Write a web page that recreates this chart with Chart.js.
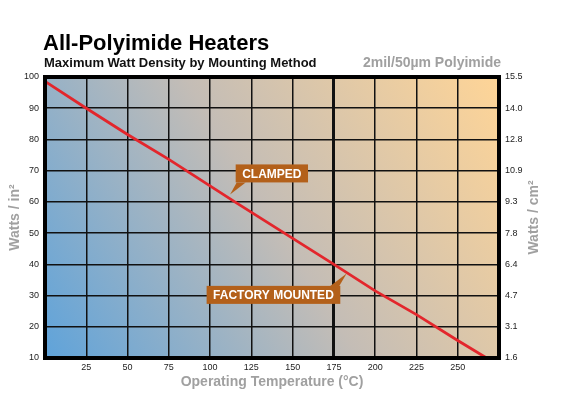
<!DOCTYPE html>
<html>
<head>
<meta charset="utf-8">
<title>All-Polyimide Heaters</title>
<script src="https://cdn.jsdelivr.net/npm/chart.js@4.4.1/dist/chart.umd.min.js"></script>
<style>
  body { margin: 0; background: #fff; font-family: "Liberation Sans", Arial, sans-serif; }
  #wrap { position: relative; width: 563px; height: 418px; }
  #chart { position: absolute; left: 0; top: 0; }
  .txt { position: absolute; font-weight: bold; white-space: nowrap; }
  #title { left: 43px; top: 32px; font-size: 22px; line-height: 22px; color: #000; }
  #subtitle { left: 44px; top: 56px; font-size: 13px; line-height: 13px; color: #111; }
  #note { right: 62px; top: 55px; font-size: 14px; line-height: 14px; color: #a0a0a0; }
</style>
</head>
<body>
<div id="wrap">
  <canvas id="chart" width="563" height="418"></canvas>
  <div class="txt" id="title">All-Polyimide Heaters</div>
  <div class="txt" id="subtitle">Maximum Watt Density by Mounting Method</div>
  <div class="txt" id="note">2mil/50µm Polyimide</div>
</div>
<script>
// Values
const temps = [0, 25, 50, 75, 115, 145, 175, 200, 225, 250, 267.5];        // °C
const wattsIn2 = [98.6, 90, 81.6, 73.6, 60, 50, 40, 31.5, 23.9, 15.6, 10]; // W/in²
const cm2Labels = ['1.6', '3.1', '4.7', '6.4', '7.8', '9.3', '10.9', '12.8', '14.0', '15.5'];

// Callout labels (box corner and pointer tip, in data units)
const calloutText = ['CLAMPED', 'FACTORY MOUNTED'];
const calloutBoxX = [115.5, 97.9];
const calloutBoxY = [72, 33.1];
const calloutTipX = [112.1, 182.7];
const calloutTipY = [62.4, 37.1];

const FONT = '"Liberation Sans", Arial, sans-serif';

// Diagonal blue -> orange fill behind the grid
const backgroundPlugin = {
    id: 'bgGradient',
    beforeDraw(chart) {
        const { ctx, chartArea: a } = chart;
        const g = ctx.createLinearGradient(a.left, a.bottom, a.right, a.top);
        g.addColorStop(0, '#5fa3da');
        g.addColorStop(0.5, '#c4bdb6');
        g.addColorStop(1, '#ffd597');
        ctx.save();
        ctx.fillStyle = g;
        ctx.fillRect(a.left, a.top, a.right - a.left, a.bottom - a.top);
        ctx.restore();
    }
};

// Thick frame, callouts and the right axis title
const overlayPlugin = {
    id: 'overlay',
    afterDatasetsDraw(chart) {
        const { ctx, chartArea: a } = chart;
        const xs = chart.scales.x, ys = chart.scales.y;
        ctx.save();
        ctx.strokeStyle = '#000';
        ctx.lineWidth = 4;
        ctx.strokeRect(a.left, a.top, a.right - a.left, a.bottom - a.top);

        ctx.font = 'bold 12px ' + FONT;
        ctx.textAlign = 'center';
        ctx.textBaseline = 'middle';
        calloutText.forEach((text, i) => {
            const bx = xs.getPixelForValue(calloutBoxX[i]);
            const by = ys.getPixelForValue(calloutBoxY[i]);
            const w = ctx.measureText(text).width + 13;
            const h = 18;
            const tx = xs.getPixelForValue(calloutTipX[i]);
            const ty = ys.getPixelForValue(calloutTipY[i]);
            ctx.fillStyle = '#b3601a';
            ctx.fillRect(bx, by, w, h);
            ctx.beginPath();
            if (ty > by + h) {
                ctx.moveTo(bx + 1, by + h);
                ctx.lineTo(bx + 10, by + h);
            } else {
                ctx.moveTo(bx + w - 10, by);
                ctx.lineTo(bx + w - 1, by);
            }
            ctx.lineTo(tx, ty);
            ctx.closePath();
            ctx.fill();
            ctx.fillStyle = '#fff';
            ctx.fillText(text, bx + w / 2, by + h / 2 + 1);
        });
        ctx.restore();
    },
    afterDraw(chart) {
        const { ctx, chartArea: a } = chart;
        ctx.save();
        ctx.translate(chart.width - 29, (a.top + a.bottom) / 2);
        ctx.rotate(-Math.PI / 2);
        ctx.font = 'bold 14px ' + FONT;
        ctx.fillStyle = '#a0a0a0';
        ctx.textAlign = 'center';
        ctx.textBaseline = 'middle';
        ctx.fillText('Watts / cm²', 0, 0);
        ctx.restore();
    }
};

const tickFont = { family: FONT, size: 9 };
const titleFont = { family: FONT, size: 14, weight: 'bold' };

new Chart(document.getElementById('chart'), {
    type: 'line',
    data: {
        datasets: [{
            data: temps.map((t, i) => ({ x: t, y: wattsIn2[i] })),
            borderColor: '#e3262c',
            borderWidth: 2.8,
            pointRadius: 0,
            tension: 0,
            yAxisID: 'y'
        }]
    },
    options: {
        responsive: false,
        animation: false,
        layout: { padding: { top: 77, bottom: 20, left: 0, right: 0 } },
        plugins: { legend: { display: false }, tooltip: { enabled: false } },
        scales: {
            x: {
                type: 'linear',
                min: 0,
                max: 275,
                afterFit(scale) { scale.height = 40; },
                grid: {
                    color: '#111',
                    lineWidth: ctx => (ctx.tick && ctx.tick.value === 175 ? 3 : 1.5),
                    drawTicks: false
                },
                border: { display: false },
                ticks: {
                    stepSize: 25,
                    autoSkip: false,
                    maxRotation: 0,
                    padding: 4,
                    color: '#222',
                    font: tickFont,
                    callback: v => (v === 0 || v === 275 ? '' : v)
                },
                title: {
                    display: true,
                    text: 'Operating Temperature (°C)',
                    color: '#a0a0a0',
                    font: titleFont,
                    padding: { top: 0, bottom: 7 }
                }
            },
            y: {
                position: 'left',
                min: 10,
                max: 100,
                afterFit(scale) { scale.width = 45; },
                grid: { color: '#111', lineWidth: 1.5, drawTicks: false },
                border: { display: false },
                ticks: { stepSize: 10, padding: 6, color: '#222', font: tickFont },
                title: {
                    display: true,
                    text: 'Watts / in²',
                    color: '#a0a0a0',
                    font: titleFont,
                    padding: { top: 7, bottom: 0 }
                }
            },
            y2: {
                position: 'right',
                min: 10,
                max: 100,
                afterFit(scale) { scale.width = 64; },
                grid: { display: false, drawTicks: false },
                border: { display: false },
                ticks: {
                    stepSize: 10,
                    padding: 6,
                    color: '#222',
                    font: tickFont,
                    callback: v => cm2Labels[Math.round((v - 10) / 10)]
                }
            }
        }
    },
    plugins: [backgroundPlugin, overlayPlugin]
});
</script>
</body>
</html>
